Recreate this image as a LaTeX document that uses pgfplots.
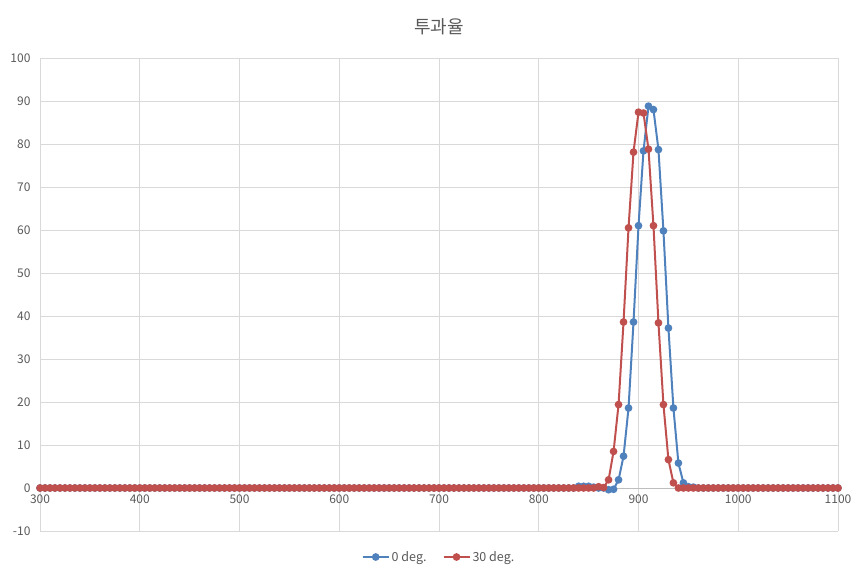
\documentclass[border=0pt]{standalone}
\usepackage{fontspec}
\setmainfont{Noto Sans CJK KR}
\usepackage{pgfplots}
\usepackage{pgfplotstable}
\pgfplotsset{compat=1.18}
\definecolor{sblue}{HTML}{4F81BD}
\definecolor{sred}{HTML}{C0504D}
\definecolor{gridc}{HTML}{D9D9D9}
\definecolor{txt}{HTML}{595959}
\pgfplotstableread{
x b r
300 0 0
305 0 0
310 0 0
315 0 0
320 0 0
325 0 0
330 0 0
335 0 0
340 0 0
345 0 0
350 0 0
355 0 0
360 0 0
365 0 0
370 0 0
375 0 0
380 0 0
385 0 0
390 0 0
395 0 0
400 0 0
405 0 0
410 0 0
415 0 0
420 0 0
425 0 0
430 0 0
435 0 0
440 0 0
445 0 0
450 0 0
455 0 0
460 0 0
465 0 0
470 0 0
475 0 0
480 0 0
485 0 0
490 0 0
495 0 0
500 0 0
505 0 0
510 0 0
515 0 0
520 0 0
525 0 0
530 0 0
535 0 0
540 0 0
545 0 0
550 0 0
555 0 0
560 0 0
565 0 0
570 0 0
575 0 0
580 0 0
585 0 0
590 0 0
595 0 0
600 0 0
605 0 0
610 0 0
615 0 0
620 0 0
625 0 0
630 0 0
635 0 0
640 0 0
645 0 0
650 0 0
655 0 0
660 0 0
665 0 0
670 0 0
675 0 0
680 0 0
685 0 0
690 0 0
695 0 0
700 0 0
705 0 0
710 0 0
715 0 0
720 0 0
725 0 0
730 0 0
735 0 0
740 0 0
745 0 0
750 0 0
755 0 0
760 0 0
765 0 0
770 0 0
775 0 0
780 0 0
785 0 0
790 0 0
795 0 0
800 0 0
805 0 0
810 0 0
815 0 0
820 0 0
825 0 0
830 0 0
835 0 0
840 0.4 0
845 0.4 0
850 0.4 0
855 0.2 0
860 0 0.3
865 0 0.1
870 -0.4 1.9
875 -0.3 8.5
880 1.9 19.4
885 7.4 38.6
890 18.6 60.5
895 38.6 78.1
900 61.0 87.4
905 78.4 87.2
910 88.8 78.8
915 88.0 61.0
920 78.7 38.4
925 59.8 19.4
930 37.2 6.6
935 18.6 1.2
940 5.8 0
945 1.2 0
950 0.3 0
955 0.2 0
960 0 0
965 0 0
970 0 0
975 0 0
980 0 0
985 0 0
990 0 0
995 0 0
1000 0 0
1005 0 0
1010 0 0
1015 0 0
1020 0 0
1025 0 0
1030 0 0
1035 0 0
1040 0 0
1045 0 0
1050 0 0
1055 0 0
1060 0 0
1065 0 0
1070 0 0
1075 0 0
1080 0 0
1085 0 0
1090 0 0
1095 0 0
1100 0 0
}\datatab
\begin{document}
\begin{tikzpicture}
\useasboundingbox (0,0) rectangle (864pt,578pt);
\begin{axis}[
  at={(40pt,47pt)}, anchor=south west,
  scale only axis, width=798pt, height=473pt,
  xmin=300, xmax=1100, ymin=-10, ymax=100,
  enlargelimits=false,
  xtick={300,400,...,1100}, ytick={-10,0,...,100},
  axis x line=middle, axis y line=left,
  hide obscured x ticks=false, hide obscured y ticks=false,
  x axis line style={-, draw=gridc!70!gray, line width=0.8pt},
  y axis line style={-, draw=gridc, line width=0.8pt},
  major tick length=0pt,
  grid=major,
  major grid style={draw=gridc, line width=0.8pt},
  /pgf/number format/assume math mode=true,
  /pgf/number format/set thousands separator={},
  tick label style={font=\fontsize{12}{14}\selectfont, text=txt},
  xticklabel style={yshift=-3pt},
  yticklabel style={xshift=-6pt},
  title={투과율},
  title style={at={(0.5,1)}, anchor=center, yshift=25pt, font=\fontsize{18}{22}\selectfont, text=txt},
  legend style={at={(0.5,-0.055)}, anchor=center, draw=none, legend columns=-1,
    font=\fontsize{12.5}{14}\selectfont, text=txt,
    /tikz/every even column/.append style={column sep=14pt}},
  legend image code/.code={\draw[#1] (0pt,0pt) -- (26pt,0pt); \draw[#1, mark repeat=1] plot coordinates {(13pt,0pt)};},
  clip=false,
]
\addplot[sblue, line width=2pt, mark=*, mark size=2.8pt] table[x=x,y=b] {\datatab};
\addlegendentry{0 deg.}
\addplot[sred, line width=2pt, mark=*, mark size=2.8pt] table[x=x,y=r] {\datatab};
\addlegendentry{30 deg.}
\end{axis}
\end{tikzpicture}
\end{document}
